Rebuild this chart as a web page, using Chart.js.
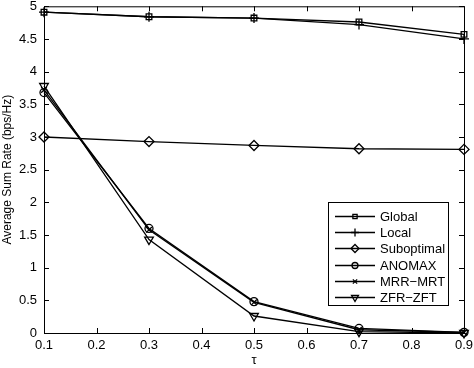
<!DOCTYPE html>
<html>
<head>
<meta charset="utf-8">
<script src="https://cdn.jsdelivr.net/npm/chart.js@4/dist/chart.umd.min.js"></script>
<style>
  html, body { margin: 0; padding: 0; background: #fff; }
  #wrap { width: 474px; height: 368px; }
</style>
</head>
<body>
<div id="wrap"><canvas id="rateChart"></canvas></div>
<script>
// tau values along the x axis
const tauValues = [0.1, 0.3, 0.5, 0.7, 0.9];
const xTicks = [0.1, 0.2, 0.3, 0.4, 0.5, 0.6, 0.7, 0.8, 0.9];
const yTicks = [0, 0.5, 1, 1.5, 2, 2.5, 3, 3.5, 4, 4.5, 5];

// average sum rate (bps/Hz)
const globalRate     = [4.91, 4.84, 4.82, 4.76, 4.57];
const localRate      = [4.91, 4.84, 4.82, 4.72, 4.50];
const suboptimalRate = [3.00, 2.93, 2.87, 2.82, 2.81];
const anomaxRate     = [3.68, 1.60, 0.48, 0.07, 0.01];
const mrrRate        = [3.72, 1.58, 0.47, 0.05, 0.01];
const zfrRate        = [3.78, 1.43, 0.26, 0.02, 0.00];

const seriesNames = ['Global', 'Local', 'Suboptimal', 'ANOMAX', 'MRR\u2212MRT', 'ZFR\u2212ZFT'];
const seriesData = [globalRate, localRate, suboptimalRate, anomaxRate, mrrRate, zfrRate];
const markers = [
  { style: 'rect', rot: 0, r: 4 },
  { style: 'cross', rot: 0, r: 5 },
  { style: 'rectRot', rot: 0, r: 5 },
  { style: 'circle', rot: 0, r: 4 },
  { style: 'crossRot', rot: 0, r: 4 },
  { style: 'triangle', rot: 180, r: 5 }
];

const FONT = '"Liberation Sans", Arial, sans-serif';

const datasets = seriesNames.map((name, i) => ({
  label: name,
  data: tauValues.map((t, j) => ({ x: t, y: seriesData[i][j] })),
  borderColor: '#000',
  backgroundColor: 'rgba(0,0,0,0)',
  borderWidth: 1.3,
  pointStyle: markers[i].style,
  pointRotation: markers[i].rot,
  pointRadius: markers[i].r,
  pointBorderColor: '#000',
  pointBackgroundColor: 'rgba(0,0,0,0)',
  pointBorderWidth: 1.3,
  tension: 0,
  clip: false
}));

// MATLAB-style box, inward ticks and boxed legend
const matlabFrame = {
  id: 'matlabFrame',
  afterDatasetsDraw(chart) {
    const { ctx, chartArea: a, scales } = chart;
    ctx.save();
    ctx.strokeStyle = '#000';
    ctx.lineWidth = 1;
    ctx.strokeRect(a.left + 0.5, a.top + 0.5, a.right - a.left, a.bottom - a.top);
    const tl = 5;
    ctx.beginPath();
    xTicks.forEach(v => {
      const x = Math.round(scales.x.getPixelForValue(v)) + 0.5;
      ctx.moveTo(x, a.bottom); ctx.lineTo(x, a.bottom - tl);
      ctx.moveTo(x, a.top); ctx.lineTo(x, a.top + tl);
    });
    yTicks.forEach(v => {
      const y = Math.round(scales.y.getPixelForValue(v)) + 0.5;
      ctx.moveTo(a.left, y); ctx.lineTo(a.left + tl, y);
      ctx.moveTo(a.right, y); ctx.lineTo(a.right - tl, y);
    });
    ctx.stroke();

    // legend
    const bx = 328, by = 202, bw = 120, bh = 103, rowH = 16.2;
    ctx.fillStyle = '#fff';
    ctx.fillRect(bx, by, bw, bh);
    ctx.strokeRect(bx + 0.5, by + 0.5, bw, bh);
    ctx.font = '13px ' + FONT;
    ctx.textBaseline = 'middle';
    chart.data.datasets.forEach((ds, i) => {
      const y = Math.round(by + 14 + rowH * i) + 0.5;
      ctx.strokeStyle = '#000';
      ctx.lineWidth = 1.3;
      ctx.beginPath();
      ctx.moveTo(bx + 7, y); ctx.lineTo(bx + 47, y);
      ctx.stroke();
      ctx.fillStyle = 'rgba(0,0,0,0)';
      Chart.helpers.drawPoint(ctx, {
        pointStyle: ds.pointStyle, rotation: ds.pointRotation,
        radius: Math.max(3, ds.pointRadius - 1), borderWidth: 1.2
      }, bx + 27, y);
      ctx.fillStyle = '#000';
      ctx.fillText(ds.label, bx + 52, y + 1);
    });
    ctx.restore();
  }
};

new Chart(document.getElementById('rateChart'), {
  type: 'line',
  data: { datasets },
  options: {
    responsive: true,
    maintainAspectRatio: false,
    animation: false,
    layout: { padding: { top: 5, right: 10, bottom: 0, left: 0 } },
    plugins: { legend: { display: false }, tooltip: { enabled: false } },
    scales: {
      x: {
        type: 'linear',
        min: 0.1, max: 0.9,
        afterBuildTicks: s => { s.ticks = xTicks.map(v => ({ value: v })); },
        afterFit: s => { s.height = 35; s.paddingLeft = 0; s.paddingRight = 0; },
        grid: { display: false, drawTicks: false },
        border: { display: false },
        ticks: {
          padding: 5, color: '#000', font: { family: FONT, size: 13 },
          maxRotation: 0, autoSkip: false,
          callback: v => v.toFixed(1)
        },
        title: {
          display: true, text: '\u03c4', color: '#000',
          font: { family: FONT, size: 13 }, padding: { top: -3, bottom: 0 }
        }
      },
      y: {
        type: 'linear',
        min: 0, max: 5,
        afterBuildTicks: s => { s.ticks = yTicks.map(v => ({ value: v })); },
        afterFit: s => { s.width = 44; s.paddingTop = 0; s.paddingBottom = 0; },
        grid: { display: false, drawTicks: false },
        border: { display: false },
        ticks: {
          padding: 7, color: '#000', font: { family: FONT, size: 13 },
          autoSkip: false,
          callback: v => String(v)
        },
        title: {
          display: true, text: 'Average Sum Rate (bps/Hz)', color: '#000',
          font: { family: FONT, size: 12 }, padding: { top: 0, bottom: 0 }
        }
      }
    }
  },
  plugins: [matlabFrame]
});
</script>
</body>
</html>
